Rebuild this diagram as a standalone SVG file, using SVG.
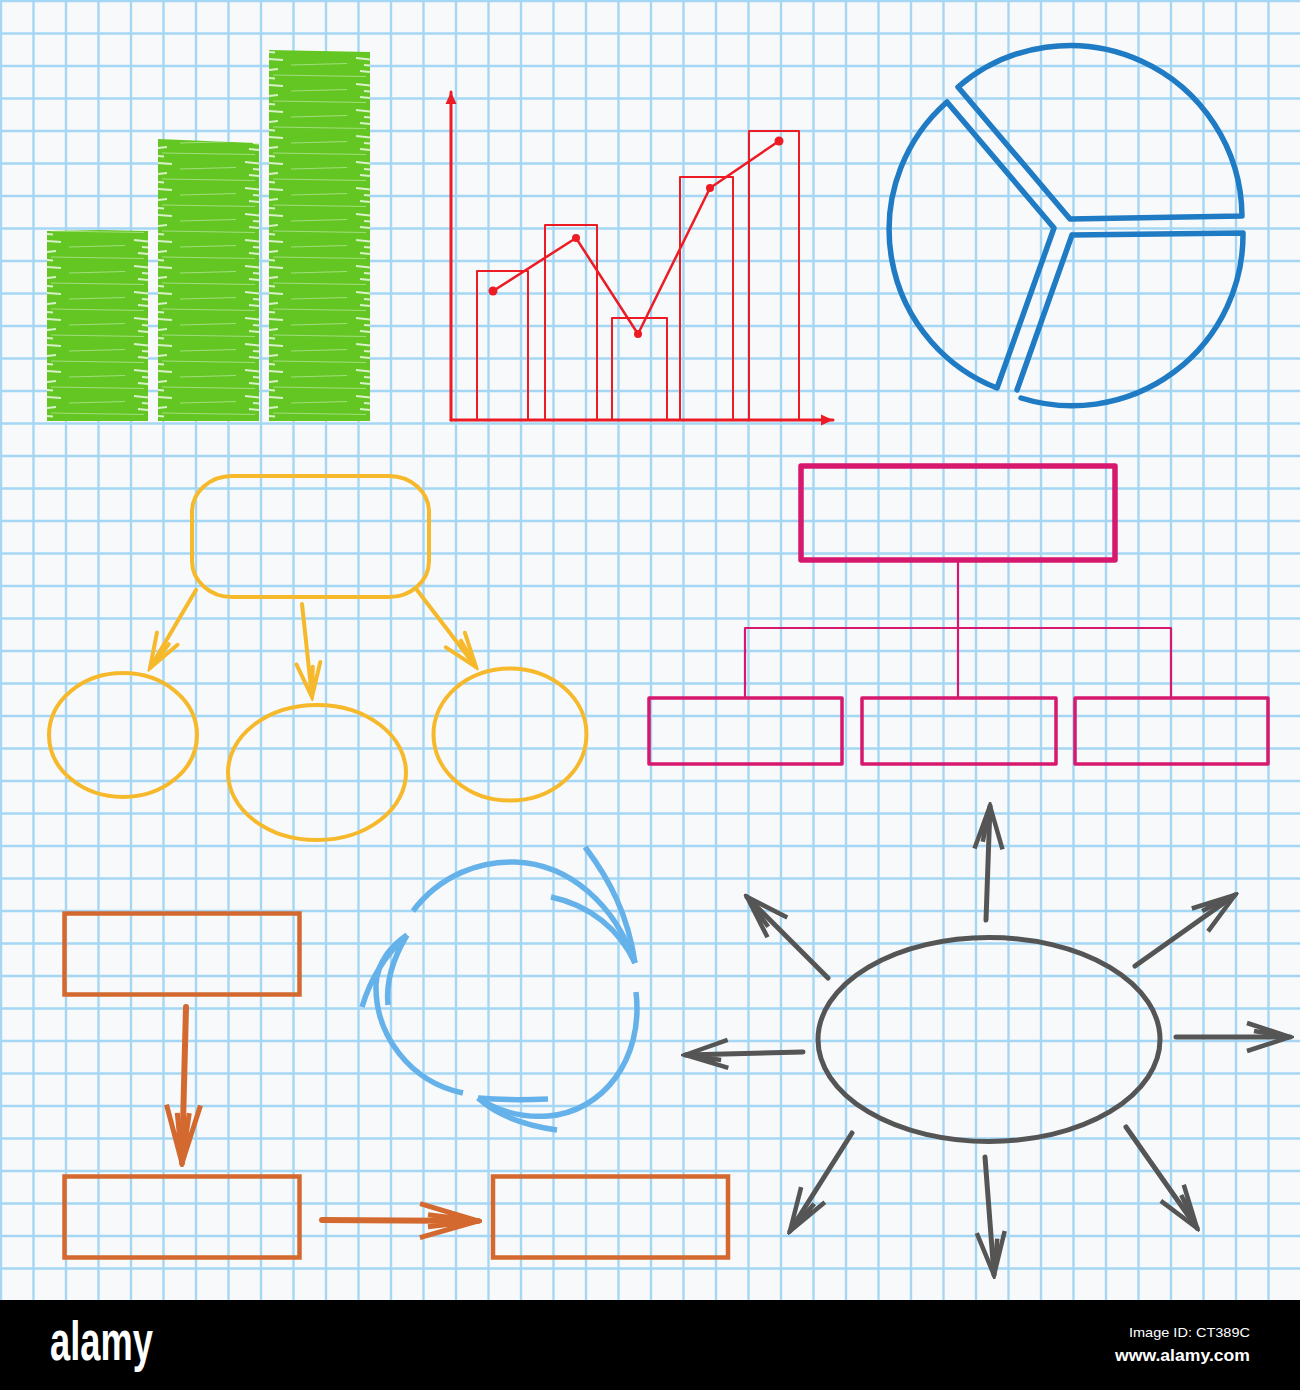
<svg xmlns="http://www.w3.org/2000/svg" width="1300" height="1390" viewBox="0 0 1300 1390">
  <style>
    .grid { stroke: #a5d7f4; stroke-width: 2.4; fill: none; }
    .red { stroke: #ec1b24; fill: none; stroke-linejoin: round; stroke-linecap: round; }
    .pie { stroke: #1f7bc4; stroke-width: 5.5; fill: none; stroke-linejoin: round; stroke-linecap: round; }
    .yel { stroke: #f6b92b; stroke-width: 4; fill: none; stroke-linecap: round; }
    .mag { stroke: #d6186f; fill: none; stroke-linejoin: round; }
    .gray { stroke: #555555; fill: none; stroke-linecap: round; }
    .org { stroke: #d3692f; stroke-width: 4.5; fill: none; stroke-linecap: round; }
    .cyc { stroke: #65b2ea; stroke-width: 5.5; fill: none; stroke-linecap: butt; }
    .wm { fill: #ffffff; font-family: "Liberation Sans", Arial, sans-serif; }
  </style>
  <defs>
    <pattern id="scribble" width="111" height="26" patternUnits="userSpaceOnUse" x="47" y="2">
      <rect width="111" height="26" fill="#63c623"/>
      <path d="M0 5 L14 6 M87 4 L101 5.5 M0 16 L9 15 M91 17 L101 18 M0 24 L6 24.5 M95 11 L101 11.5" stroke="#ffffff" stroke-width="1.8" opacity="0.75" fill="none"/>
      <path d="M4 21 L97 22.5 M22 11 L78 9.5" stroke="#ffffff" stroke-width="1" opacity="0.4" fill="none"/>
    </pattern>
    <marker id="ahRed" markerUnits="userSpaceOnUse" markerWidth="16" markerHeight="14" refX="0" refY="0" viewBox="-13 -7 16 14" orient="auto">
      <path d="M-12,-5.5 L0,0 L-12,5.5 Z" fill="#ec1b24"/>
    </marker>
    <marker id="ahYel" markerUnits="userSpaceOnUse" markerWidth="44" markerHeight="36" refX="0" refY="0" viewBox="-40 -18 44 36" orient="auto">
      <path d="M-34,-12 L0,0 L-34,12 M-30,-4 L0,0" stroke="#f6b92b" stroke-width="4" fill="none" stroke-linecap="round"/>
    </marker>
    <marker id="ahGray" markerUnits="userSpaceOnUse" markerWidth="54" markerHeight="40" refX="0" refY="0" viewBox="-50 -20 54 40" orient="auto">
      <path d="M-43,-14 L0,0 L-43,14 M-36,-6 L0,0" stroke="#555555" stroke-width="4.5" fill="none" stroke-linecap="butt"/>
    </marker>
    <marker id="ahOrg" markerUnits="userSpaceOnUse" markerWidth="68" markerHeight="48" refX="0" refY="0" viewBox="-64 -24 68 48" orient="auto">
      <path d="M-58,-17 L0,0 L-58,17 M-50,-6 L0,0 M-50,6 L0,0" stroke="#d3692f" stroke-width="5" fill="none" stroke-linecap="butt"/>
    </marker>
  </defs>

  <!-- paper -->
  <rect id="paper" x="0" y="0" width="1300" height="1390" fill="#f8f9fa"/>
  <path id="grid" class="grid" d="M1 0V1300M33.5 0V1300M66 0V1300M98.5 0V1300M131 0V1300M163.5 0V1300M196 0V1300M228.5 0V1300M261 0V1300M293.5 0V1300M326 0V1300M358.5 0V1300M391 0V1300M423.5 0V1300M456 0V1300M488.5 0V1300M521 0V1300M553.5 0V1300M586 0V1300M618.5 0V1300M651 0V1300M683.5 0V1300M716 0V1300M748.5 0V1300M781 0V1300M813.5 0V1300M846 0V1300M878.5 0V1300M911 0V1300M943.5 0V1300M976 0V1300M1008.5 0V1300M1041 0V1300M1073.5 0V1300M1106 0V1300M1138.5 0V1300M1171 0V1300M1203.5 0V1300M1236 0V1300M1268.5 0V1300M0 1H1300M0 33.5H1300M0 66H1300M0 98.5H1300M0 131H1300M0 163.5H1300M0 196H1300M0 228.5H1300M0 261H1300M0 293.5H1300M0 326H1300M0 358.5H1300M0 391H1300M0 423.5H1300M0 456H1300M0 488.5H1300M0 521H1300M0 553.5H1300M0 586H1300M0 618.5H1300M0 651H1300M0 683.5H1300M0 716H1300M0 748.5H1300M0 781H1300M0 813.5H1300M0 846H1300M0 878.5H1300M0 911H1300M0 943.5H1300M0 976H1300M0 1008.5H1300M0 1041H1300M0 1073.5H1300M0 1106H1300M0 1138.5H1300M0 1171H1300M0 1203.5H1300M0 1236H1300M0 1268.5H1300"/>

  <!-- green bar chart -->
  <g id="green-bars">
    <path id="gbar1" d="M47 231 L100 230 L148 231 L148 421 L47 421 Z" fill="url(#scribble)"/>
    <path id="gbar2" d="M158 139 L259 143 L259 421 L158 421 Z" fill="url(#scribble)"/>
    <path id="gbar3" d="M269 50 L370 52 L370 421 L269 421 Z" fill="url(#scribble)"/>
  </g>

  <!-- red bar + line chart -->
  <g id="red-chart">
    <path id="red-axes" class="red" stroke-width="3" d="M451 420 V92" marker-end="url(#ahRed)"/>
    <path class="red" stroke-width="3" d="M451 420 H833" marker-end="url(#ahRed)"/>
    <g id="red-bars" class="red" stroke-width="2">
      <path d="M477 419 V271 H528 V419"/>
      <path d="M545 419 V225 H597 V419"/>
      <path d="M612 419 V318 H667 V419"/>
      <path d="M680 419 V177 H733 V419"/>
      <path d="M749 419 V131 H799 V419"/>
    </g>
    <polyline id="red-line" class="red" stroke-width="2.5" points="493,291 576,238 638,334 710,188 779,141"/>
    <g id="red-dots" fill="#ec1b24">
      <circle cx="493" cy="291" r="4.5"/>
      <circle cx="576" cy="238" r="4"/>
      <circle cx="638" cy="334" r="4"/>
      <circle cx="710" cy="188" r="4"/>
      <circle cx="779" cy="141" r="4.5"/>
    </g>
  </g>

  <!-- pie chart -->
  <g id="pie">
    <path id="slice1" class="pie" d="M1070 219 L958 87 A172 172 0 0 1 1242 216 Z"/>
    <path id="slice2" class="pie" d="M947 102 A170 170 0 0 0 997 388 L1054 228 Z"/>
    <path id="slice3" class="pie" d="M1072 235 L1243 233 A171 171 0 0 1 1021 398 M1017 390 L1072 235"/>
  </g>

  <!-- yellow flowchart nodes -->
  <g id="y-root"><rect class="yel" x="192" y="476" width="237" height="121" rx="40" ry="36"/></g>
  <g id="y-child1"><ellipse class="yel" cx="123" cy="735" rx="74" ry="62"/></g>
  <g id="y-child2"><ellipse class="yel" cx="317" cy="772.5" rx="89" ry="67.5"/></g>
  <g id="y-child3"><ellipse class="yel" cx="510" cy="734.5" rx="76.5" ry="66"/></g>

  <!-- magenta org chart nodes -->
  <g id="m-root"><rect class="mag" stroke-width="5.5" x="801" y="466" width="314" height="94"/></g>
  <g id="m-child1"><rect class="mag" stroke-width="3.5" x="649" y="698" width="193" height="66"/></g>
  <g id="m-child2"><rect class="mag" stroke-width="3.5" x="862" y="698" width="194" height="66"/></g>
  <g id="m-child3"><rect class="mag" stroke-width="3.5" x="1075" y="698" width="193" height="66"/></g>

  <!-- orange flow nodes -->
  <g id="o-box1"><rect class="org" x="64.5" y="913.5" width="235" height="81"/></g>
  <g id="o-box2"><rect class="org" x="64.5" y="1176.5" width="235" height="81"/></g>
  <g id="o-box3"><rect class="org" x="493" y="1176.5" width="235" height="81"/></g>

  <!-- gray mind map hub -->
  <g id="hub"><ellipse class="gray" stroke-width="5" cx="989" cy="1039.5" rx="171" ry="102"/></g>

  <!-- cycle -->
  <g id="cycle">
    <path class="cyc" d="M413 911 C440 875 480 861 515 862 C570 864 615 905 635 963"/>
    <path class="cyc" stroke-width="5" d="M585 847 C610 880 628 915 635 963 M551 897 C590 905 620 930 635 963"/>
    <path class="cyc" d="M636 992 C644 1060 602 1112 548 1116 C518 1118 496 1110 478 1098"/>
    <path class="cyc" stroke-width="5" d="M478 1098 C500 1100 525 1100 548 1099 M478 1098 C500 1118 528 1126 557 1130"/>
    <path class="cyc" d="M463 1093 C410 1082 375 1035 376 985 C377 962 392 945 407 935"/>
    <path class="cyc" stroke-width="5" d="M407 935 C385 955 370 980 362 1007 M407 935 C392 960 386 985 388 1005"/>
  </g>

  <!-- connectors -->
  <g id="connectors">
    <g id="y-arrows" class="yel">
      <path d="M196 590 L150 668" marker-end="url(#ahYel)"/>
      <path d="M302 604 L312 697" marker-end="url(#ahYel)"/>
      <path d="M417 590 L476 667" marker-end="url(#ahYel)"/>
    </g>
    <g id="m-links" class="mag" stroke-width="2.2">
      <path d="M958 560 V697"/>
      <path d="M745 697 V628 H1171 V697"/>
    </g>
    <g id="o-arrows" class="org">
      <path stroke-width="6" d="M186 1007 L182 1163" marker-end="url(#ahOrg)"/>
      <path stroke-width="6" d="M322 1220 L478 1221" marker-end="url(#ahOrg)"/>
    </g>
    <g id="g-arrows" class="gray" stroke-width="5">
      <path d="M986 920 L990 806" marker-end="url(#ahGray)"/>
      <path d="M828 978 L747 897" marker-end="url(#ahGray)"/>
      <path d="M1135 966 L1235 895" marker-end="url(#ahGray)"/>
      <path d="M1176 1037 L1290 1037" marker-end="url(#ahGray)"/>
      <path d="M803 1052 L685 1055" marker-end="url(#ahGray)"/>
      <path d="M852 1133 L790 1231" marker-end="url(#ahGray)"/>
      <path d="M985 1157 L994 1275" marker-end="url(#ahGray)"/>
      <path d="M1126 1127 L1197 1228" marker-end="url(#ahGray)"/>
    </g>
  </g>

  <!-- footer -->
  <g id="footer">
    <rect x="0" y="1300" width="1300" height="90" fill="#000000"/>
    <text class="wm" x="50" y="1360" font-size="56" font-weight="bold" textLength="103" lengthAdjust="spacingAndGlyphs">alamy</text>
    <text class="wm" x="1250" y="1337" font-size="13" text-anchor="end" textLength="121" lengthAdjust="spacingAndGlyphs">Image ID: CT389C</text>
    <text class="wm" x="1250" y="1361" font-size="16" font-weight="bold" text-anchor="end" textLength="135" lengthAdjust="spacingAndGlyphs">www.alamy.com</text>
  </g>
</svg>
